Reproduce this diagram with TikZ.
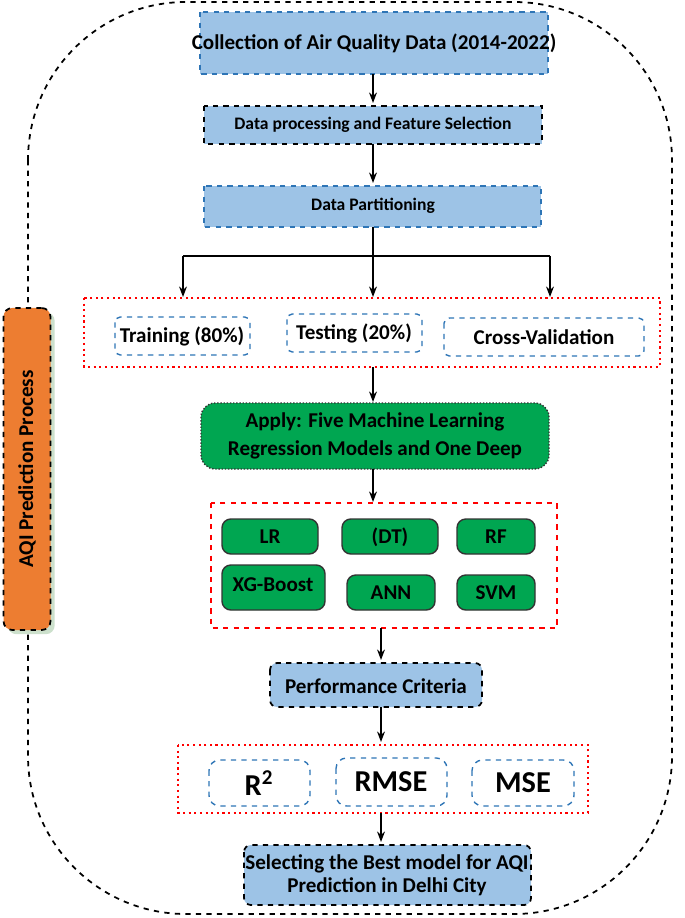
\documentclass[tikz,border=0pt]{standalone}
\usepackage{fontspec}
\setmainfont{Carlito}
\usetikzlibrary{arrows.meta,shadows}
\definecolor{lblue}{HTML}{9DC3E6}
\definecolor{bblue}{HTML}{2E75B6}
\definecolor{mgreen}{HTML}{00A651}
\definecolor{orng}{HTML}{ED7D31}
\begin{document}
\begin{tikzpicture}[x=0.02cm,y=-0.02cm,font=\bfseries,
  box/.style={draw=bblue,dashed,line width=0.8pt,fill=lblue},
  kbox/.style={draw=black,dashed,line width=1pt,fill=lblue,rounded corners=4pt},
  wbox/.style={draw=bblue,dashed,line width=0.8pt,fill=white,rounded corners=3pt},
  gbox/.style={draw=black!80,line width=0.8pt,fill=mgreen,rounded corners=5pt},
  redbox/.style={draw=red,line width=1.2pt},
  arr/.style={-{Stealth[length=6pt]},line width=0.8pt}]
\useasboundingbox (0,0) rectangle (685,918);
% outer frame
\draw[dashed,line width=1pt,rounded corners=90pt] (28,2) rectangle (672,914);
% side label
\node[draw=black,dashed,line width=1pt,fill=orng,rounded corners=5pt,
  minimum width=47*0.02cm,minimum height=322*0.02cm,
  drop shadow={fill=green!40!black!40}] (side) at (27,469) {};
\node[rotate=90,font=\bfseries\large] (sidet) at (27,469) {AQI Prediction Process};
% boxes
\draw[box] (200,12) rectangle (548,74);
\node (b1) at (374,43) {\large Collection of Air Quality Data (2014-2022)};
\draw[kbox,rounded corners=0pt] (204,106) rectangle (542,144);
\node (b2) at (373,125) {Data processing and Feature Selection};
\draw[box] (204,186) rectangle (541,227);
\node (b3) at (373,206) {Data Partitioning};
\coordinate (b1s) at (373,74); \coordinate (b2n) at (373,103);
\coordinate (b2s) at (373,144); \coordinate (b3n) at (373,183);
\draw[arr] (b1s) -- (b2n);
\draw[arr] (b2s) -- (b3n);
\coordinate (b3s) at (373,227); \coordinate (j) at (373,256);
\coordinate (jl) at (183,256); \coordinate (jr) at (550,256);
\coordinate (tl) at (183,297); \coordinate (tm) at (373,297); \coordinate (tr) at (550,297);
\draw[line width=0.8pt] (b3s) -- (j) (jl) -- (jr);
\draw[arr] (jl) -- (tl); \draw[arr] (j) -- (tm); \draw[arr] (jr) -- (tr);
\draw[redbox,dotted] (84,298) rectangle (660,367);
\draw[wbox] (115,317) rectangle (250,355); \node (tr1) at (182,336) {\large Training (80\%)};
\draw[wbox] (287,314) rectangle (422,352); \node (te1) at (354,333) {\large Testing (20\%)};
\draw[wbox] (444,318) rectangle (644,356); \node (cv1) at (544,337) {\large Cross-Validation};
\coordinate (p1) at (373,367); \coordinate (g1n) at (373,402);
\draw[arr] (p1) -- (g1n);
\draw[gbox,densely dotted,rounded corners=8pt] (201,403) rectangle (549,469);
\node[align=center,font=\bfseries\large] (g1) at (375,436) {Apply: Five Machine Learning\\[2pt]Regression Models and One Deep};
\coordinate (g1s) at (373,469); \coordinate (m1) at (373,502);
\draw[arr] (g1s) -- (m1);
\draw[redbox,dashed] (211,503) rectangle (557,628);
\draw[gbox] (222,519) rectangle (318,554); \node (lr) at (270,537) {\large LR};
\draw[gbox] (342,519) rectangle (438,554); \node (dt) at (390,537) {\large (DT)};
\draw[gbox] (457,519) rectangle (535,554); \node (rf) at (496,537) {\large RF};
\draw[gbox] (222,565) rectangle (325,610); \node (xg) at (273,585) {\large XG-Boost};
\draw[gbox] (347,575) rectangle (435,610); \node (ann) at (391,593) {\large ANN};
\draw[gbox] (457,575) rectangle (535,610); \node (svm) at (496,593) {\large SVM};
\coordinate (m1s) at (381,628); \coordinate (pcn) at (381,660);
\draw[arr] (m1s) -- (pcn);
\draw[kbox] (270,663) rectangle (482,707); \node (pc) at (376,686) {\large Performance Criteria};
\coordinate (pcs) at (381,707); \coordinate (mn) at (381,742);
\draw[arr] (pcs) -- (mn);
\draw[redbox,dotted] (178,745) rectangle (588,813);
\draw[wbox,rounded corners=6pt] (209,760) rectangle (310,806); \node (r2) at (259,783) {\LARGE R$^{\mathbf 2}$};
\draw[wbox,rounded corners=6pt] (336,758) rectangle (447,806); \node (rmse) at (391,782) {\LARGE RMSE};
\draw[wbox,rounded corners=6pt] (472,760) rectangle (574,806); \node (mse) at (523,783) {\LARGE MSE};
\coordinate (ms) at (381,813); \coordinate (fn) at (381,842);
\draw[arr] (ms) -- (fn);
\draw[kbox] (244,845) rectangle (531,905);
\node[align=center] (fin) at (387,875) {\large Selecting the Best model for AQI\\[1pt]\large Prediction in Delhi City};
\end{tikzpicture}
\end{document}
